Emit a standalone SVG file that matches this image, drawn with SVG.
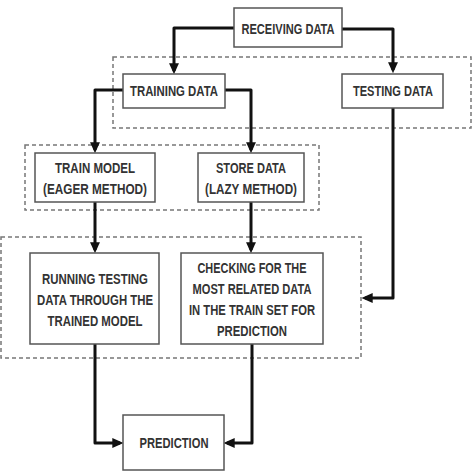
<svg xmlns="http://www.w3.org/2000/svg" width="474" height="474" viewBox="0 0 474 474">
<defs>
<style>
.bg{fill:#fff}
.box{fill:#fff;stroke:#555;stroke-width:1.5}
.grp{fill:none;stroke:#777;stroke-width:1.5;stroke-dasharray:4 3}
.t{font-family:"Liberation Sans",Arial,sans-serif;font-size:14px;font-weight:bold;fill:#333;text-anchor:middle}
.c{fill:none;stroke:#111;stroke-width:3;stroke-linejoin:round}
</style>
<marker id="ah" markerUnits="userSpaceOnUse" markerWidth="11" markerHeight="11" viewBox="0 0 10 10" refX="7" refY="5" orient="auto">
<path d="M0,0.5 L10,5 L0,9.5 z" fill="#111"/>
</marker>
</defs>
<rect class="bg" width="474" height="474"/>
<g id="groups">
<rect class="grp" x="113" y="57" width="358" height="71"/>
<rect class="grp" x="25" y="145" width="294" height="65"/>
<rect class="grp" x="1" y="237" width="360" height="121"/>
</g>
<g id="connectors">
<path class="c" d="M234,28 H174 V71" marker-end="url(#ah)"/>
<path class="c" d="M342,29 H393 V70" marker-end="url(#ah)"/>
<path class="c" d="M123,90 H95 V150" marker-end="url(#ah)"/>
<path class="c" d="M225,90 H251 V150" marker-end="url(#ah)"/>
<path class="c" d="M95,202 V250" marker-end="url(#ah)"/>
<path class="c" d="M251,202 V250" marker-end="url(#ah)"/>
<path class="c" d="M393,108 V298 H365" marker-end="url(#ah)"/>
<path class="c" d="M95,344 V443 H120" marker-end="url(#ah)"/>
<path class="c" d="M252,344 V443 H227" marker-end="url(#ah)"/>
</g>
<g id="receiving">
<rect class="box" x="234" y="8" width="108" height="39"/>
<text class="t" x="288" y="34" textLength="93" lengthAdjust="spacingAndGlyphs">RECEIVING DATA</text>
</g>
<g id="training">
<rect class="box" x="123" y="74" width="102" height="34"/>
<text class="t" x="174" y="96" textLength="88" lengthAdjust="spacingAndGlyphs">TRAINING DATA</text>
</g>
<g id="testing">
<rect class="box" x="342" y="74" width="101" height="34"/>
<text class="t" x="393" y="96" textLength="80" lengthAdjust="spacingAndGlyphs">TESTING DATA</text>
</g>
<g id="trainmodel">
<rect class="box" x="35" y="153" width="120" height="49"/>
<text class="t" x="95" y="173" textLength="80" lengthAdjust="spacingAndGlyphs">TRAIN MODEL</text>
<text class="t" x="95" y="194" textLength="104" lengthAdjust="spacingAndGlyphs">(EAGER METHOD)</text>
</g>
<g id="storedata">
<rect class="box" x="198" y="153" width="106" height="49"/>
<text class="t" x="251" y="173" textLength="70" lengthAdjust="spacingAndGlyphs">STORE DATA</text>
<text class="t" x="251" y="194" textLength="92" lengthAdjust="spacingAndGlyphs">(LAZY METHOD)</text>
</g>
<g id="running">
<rect class="box" x="30" y="253" width="129" height="91"/>
<text class="t" x="95" y="284" textLength="106" lengthAdjust="spacingAndGlyphs">RUNNING TESTING</text>
<text class="t" x="95" y="305" textLength="116" lengthAdjust="spacingAndGlyphs">DATA THROUGH THE</text>
<text class="t" x="95" y="326" textLength="95" lengthAdjust="spacingAndGlyphs">TRAINED MODEL</text>
</g>
<g id="checking">
<rect class="box" x="181" y="253" width="142" height="91"/>
<text class="t" x="252" y="273" textLength="109" lengthAdjust="spacingAndGlyphs">CHECKING FOR THE</text>
<text class="t" x="252" y="294" textLength="119" lengthAdjust="spacingAndGlyphs">MOST RELATED DATA</text>
<text class="t" x="252" y="315" textLength="126" lengthAdjust="spacingAndGlyphs">IN THE TRAIN SET FOR</text>
<text class="t" x="252" y="336" textLength="70" lengthAdjust="spacingAndGlyphs">PREDICTION</text>
</g>
<g id="prediction">
<rect class="box" x="123" y="415" width="101" height="55"/>
<text class="t" x="174" y="448" textLength="69" lengthAdjust="spacingAndGlyphs">PREDICTION</text>
</g>
</svg>
